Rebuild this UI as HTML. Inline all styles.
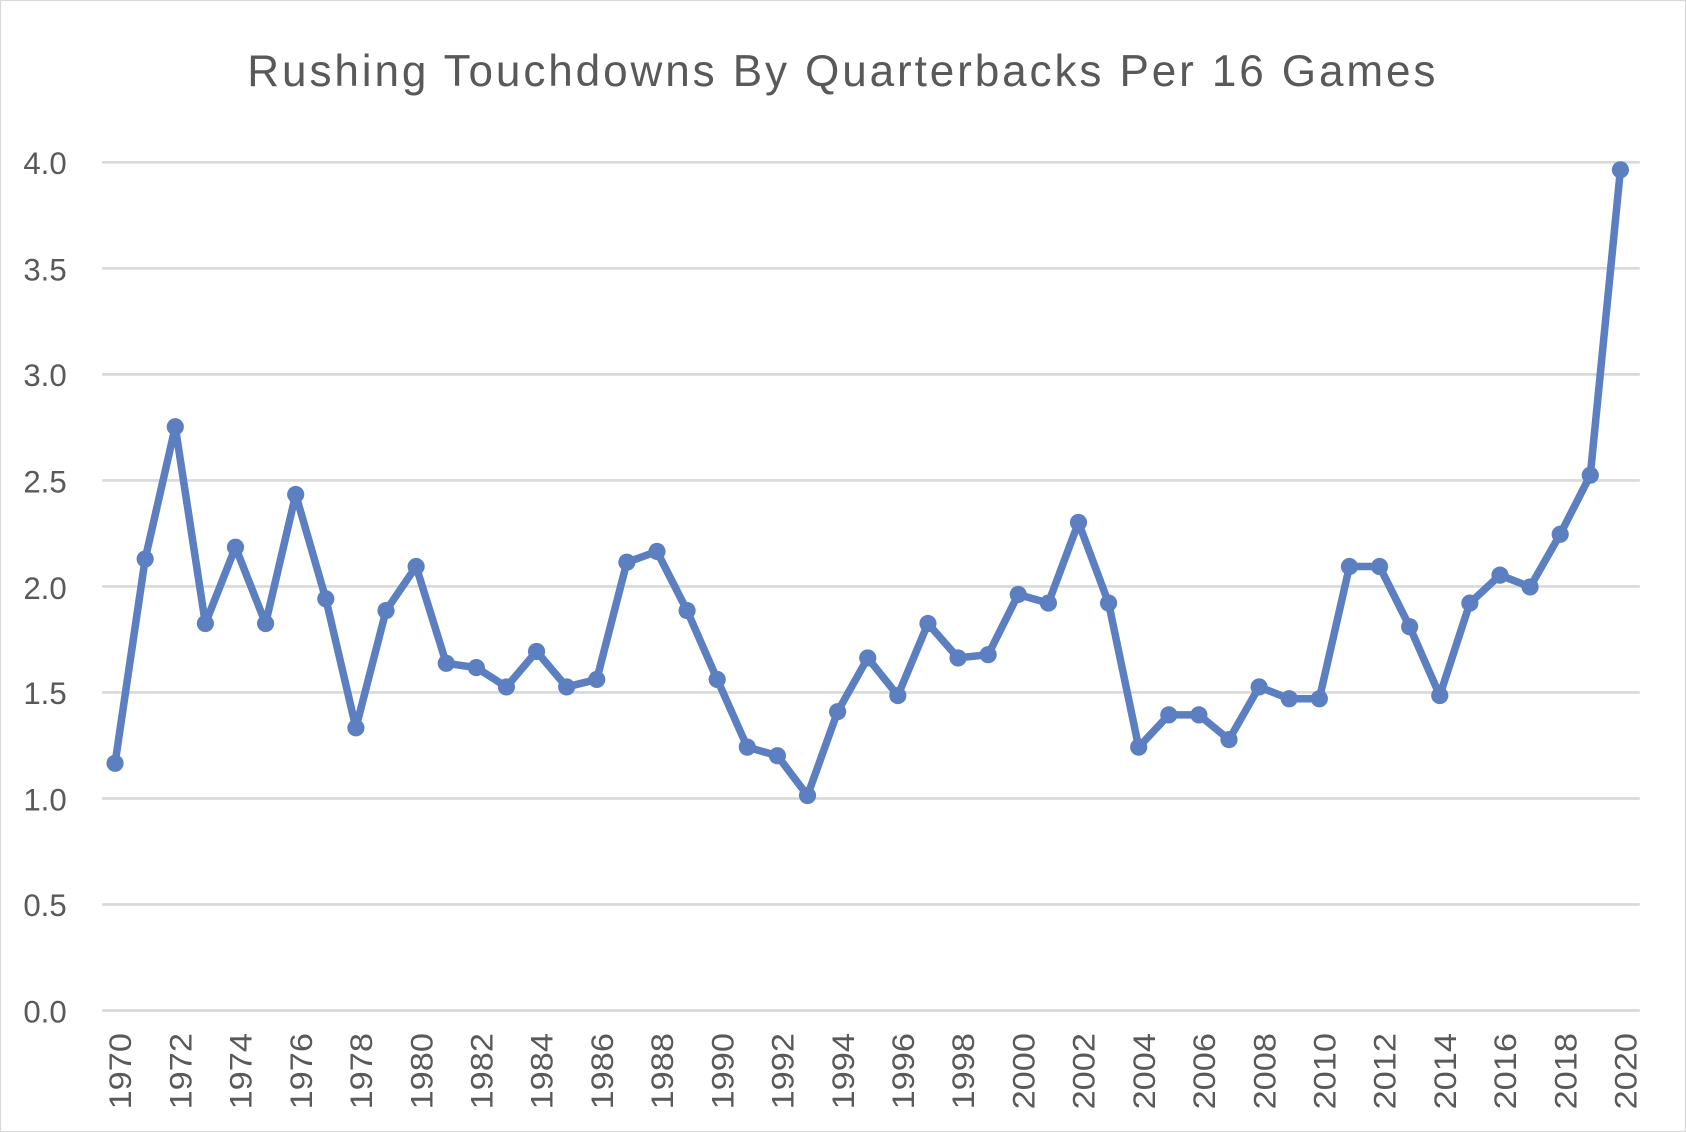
<!DOCTYPE html>
<html><head><meta charset="utf-8"><style>
html,body{margin:0;padding:0;background:#fff;}
svg{display:block;}
text{font-family:"Liberation Sans",sans-serif;fill:#595959;}
</style></head><body>
<svg width="1686" height="1132" viewBox="0 0 1568 1053" preserveAspectRatio="none">
<rect x="0.5" y="0.5" width="1567" height="1052" fill="#fff" stroke="#d9d9d9" stroke-width="1"/>
<text x="230" y="80" font-size="41" textLength="1105" lengthAdjust="spacing">Rushing Touchdowns By Quarterbacks Per 16 Games</text>
<g stroke="#d9d9d9" stroke-width="2.5">
<line x1="95" x2="1525" y1="151" y2="151"/>
<line x1="95" x2="1525" y1="249.6" y2="249.6"/>
<line x1="95" x2="1525" y1="348.25" y2="348.25"/>
<line x1="95" x2="1525" y1="446.9" y2="446.9"/>
<line x1="95" x2="1525" y1="545.5" y2="545.5"/>
<line x1="95" x2="1525" y1="644.1" y2="644.1"/>
<line x1="95" x2="1525" y1="742.75" y2="742.75"/>
<line x1="95" x2="1525" y1="841.4" y2="841.4"/>
<line x1="95" x2="1525" y1="940" y2="940"/>
</g>
<g font-size="29" text-anchor="end">
<text x="62" y="162">4.0</text>
<text x="62" y="261">3.5</text>
<text x="62" y="359">3.0</text>
<text x="62" y="458">2.5</text>
<text x="62" y="557">2.0</text>
<text x="62" y="655">1.5</text>
<text x="62" y="754">1.0</text>
<text x="62" y="852">0.5</text>
<text x="62" y="951">0.0</text>
</g>
<g font-size="29" text-anchor="end">
<text transform="translate(122,961) rotate(-90)" textLength="71" lengthAdjust="spacingAndGlyphs">1970</text>
<text transform="translate(178,961) rotate(-90)" textLength="71" lengthAdjust="spacingAndGlyphs">1972</text>
<text transform="translate(234,961) rotate(-90)" textLength="71" lengthAdjust="spacingAndGlyphs">1974</text>
<text transform="translate(290,961) rotate(-90)" textLength="71" lengthAdjust="spacingAndGlyphs">1976</text>
<text transform="translate(346,961) rotate(-90)" textLength="71" lengthAdjust="spacingAndGlyphs">1978</text>
<text transform="translate(402,961) rotate(-90)" textLength="71" lengthAdjust="spacingAndGlyphs">1980</text>
<text transform="translate(458,961) rotate(-90)" textLength="71" lengthAdjust="spacingAndGlyphs">1982</text>
<text transform="translate(514,961) rotate(-90)" textLength="71" lengthAdjust="spacingAndGlyphs">1984</text>
<text transform="translate(570,961) rotate(-90)" textLength="71" lengthAdjust="spacingAndGlyphs">1986</text>
<text transform="translate(626,961) rotate(-90)" textLength="71" lengthAdjust="spacingAndGlyphs">1988</text>
<text transform="translate(682,961) rotate(-90)" textLength="71" lengthAdjust="spacingAndGlyphs">1990</text>
<text transform="translate(738,961) rotate(-90)" textLength="71" lengthAdjust="spacingAndGlyphs">1992</text>
<text transform="translate(794,961) rotate(-90)" textLength="71" lengthAdjust="spacingAndGlyphs">1994</text>
<text transform="translate(850,961) rotate(-90)" textLength="71" lengthAdjust="spacingAndGlyphs">1996</text>
<text transform="translate(906,961) rotate(-90)" textLength="71" lengthAdjust="spacingAndGlyphs">1998</text>
<text transform="translate(962,961) rotate(-90)" textLength="71" lengthAdjust="spacingAndGlyphs">2000</text>
<text transform="translate(1018,961) rotate(-90)" textLength="71" lengthAdjust="spacingAndGlyphs">2002</text>
<text transform="translate(1074,961) rotate(-90)" textLength="71" lengthAdjust="spacingAndGlyphs">2004</text>
<text transform="translate(1130,961) rotate(-90)" textLength="71" lengthAdjust="spacingAndGlyphs">2006</text>
<text transform="translate(1186,961) rotate(-90)" textLength="71" lengthAdjust="spacingAndGlyphs">2008</text>
<text transform="translate(1242,961) rotate(-90)" textLength="71" lengthAdjust="spacingAndGlyphs">2010</text>
<text transform="translate(1298,961) rotate(-90)" textLength="71" lengthAdjust="spacingAndGlyphs">2012</text>
<text transform="translate(1354,961) rotate(-90)" textLength="71" lengthAdjust="spacingAndGlyphs">2014</text>
<text transform="translate(1410,961) rotate(-90)" textLength="71" lengthAdjust="spacingAndGlyphs">2016</text>
<text transform="translate(1466,961) rotate(-90)" textLength="71" lengthAdjust="spacingAndGlyphs">2018</text>
<text transform="translate(1522,961) rotate(-90)" textLength="71" lengthAdjust="spacingAndGlyphs">2020</text>
</g>
<polyline fill="none" stroke="#5b7fc0" stroke-width="7" stroke-linejoin="round" points="107,710 135,520 163,397 191,580 219,509 247,580 275,460 303,557 331,677 359,568 387,527 415,617 443,621 471,639 499,606 527,639 555,632 583,523 611,513 639,568 667,632 695,695 723,703 751,740 779,662 807,612 835,647 863,580 891,612 919,609 947,553 975,561 1003,486 1031,561 1059,695 1087,665 1115,665 1143,688 1171,639 1199,650 1227,650 1255,527 1283,527 1311,583 1339,647 1367,561 1395,535 1423,546 1451,497 1479,442 1507,158"/>
<g fill="#5b7fc0">
<circle cx="107" cy="710" r="8"/><circle cx="135" cy="520" r="8"/><circle cx="163" cy="397" r="8"/><circle cx="191" cy="580" r="8"/><circle cx="219" cy="509" r="8"/><circle cx="247" cy="580" r="8"/><circle cx="275" cy="460" r="8"/><circle cx="303" cy="557" r="8"/><circle cx="331" cy="677" r="8"/><circle cx="359" cy="568" r="8"/><circle cx="387" cy="527" r="8"/><circle cx="415" cy="617" r="8"/><circle cx="443" cy="621" r="8"/><circle cx="471" cy="639" r="8"/><circle cx="499" cy="606" r="8"/><circle cx="527" cy="639" r="8"/><circle cx="555" cy="632" r="8"/><circle cx="583" cy="523" r="8"/><circle cx="611" cy="513" r="8"/><circle cx="639" cy="568" r="8"/><circle cx="667" cy="632" r="8"/><circle cx="695" cy="695" r="8"/><circle cx="723" cy="703" r="8"/><circle cx="751" cy="740" r="8"/><circle cx="779" cy="662" r="8"/><circle cx="807" cy="612" r="8"/><circle cx="835" cy="647" r="8"/><circle cx="863" cy="580" r="8"/><circle cx="891" cy="612" r="8"/><circle cx="919" cy="609" r="8"/><circle cx="947" cy="553" r="8"/><circle cx="975" cy="561" r="8"/><circle cx="1003" cy="486" r="8"/><circle cx="1031" cy="561" r="8"/><circle cx="1059" cy="695" r="8"/><circle cx="1087" cy="665" r="8"/><circle cx="1115" cy="665" r="8"/><circle cx="1143" cy="688" r="8"/><circle cx="1171" cy="639" r="8"/><circle cx="1199" cy="650" r="8"/><circle cx="1227" cy="650" r="8"/><circle cx="1255" cy="527" r="8"/><circle cx="1283" cy="527" r="8"/><circle cx="1311" cy="583" r="8"/><circle cx="1339" cy="647" r="8"/><circle cx="1367" cy="561" r="8"/><circle cx="1395" cy="535" r="8"/><circle cx="1423" cy="546" r="8"/><circle cx="1451" cy="497" r="8"/><circle cx="1479" cy="442" r="8"/><circle cx="1507" cy="158" r="8"/>
</g>
</svg>
</body></html>
